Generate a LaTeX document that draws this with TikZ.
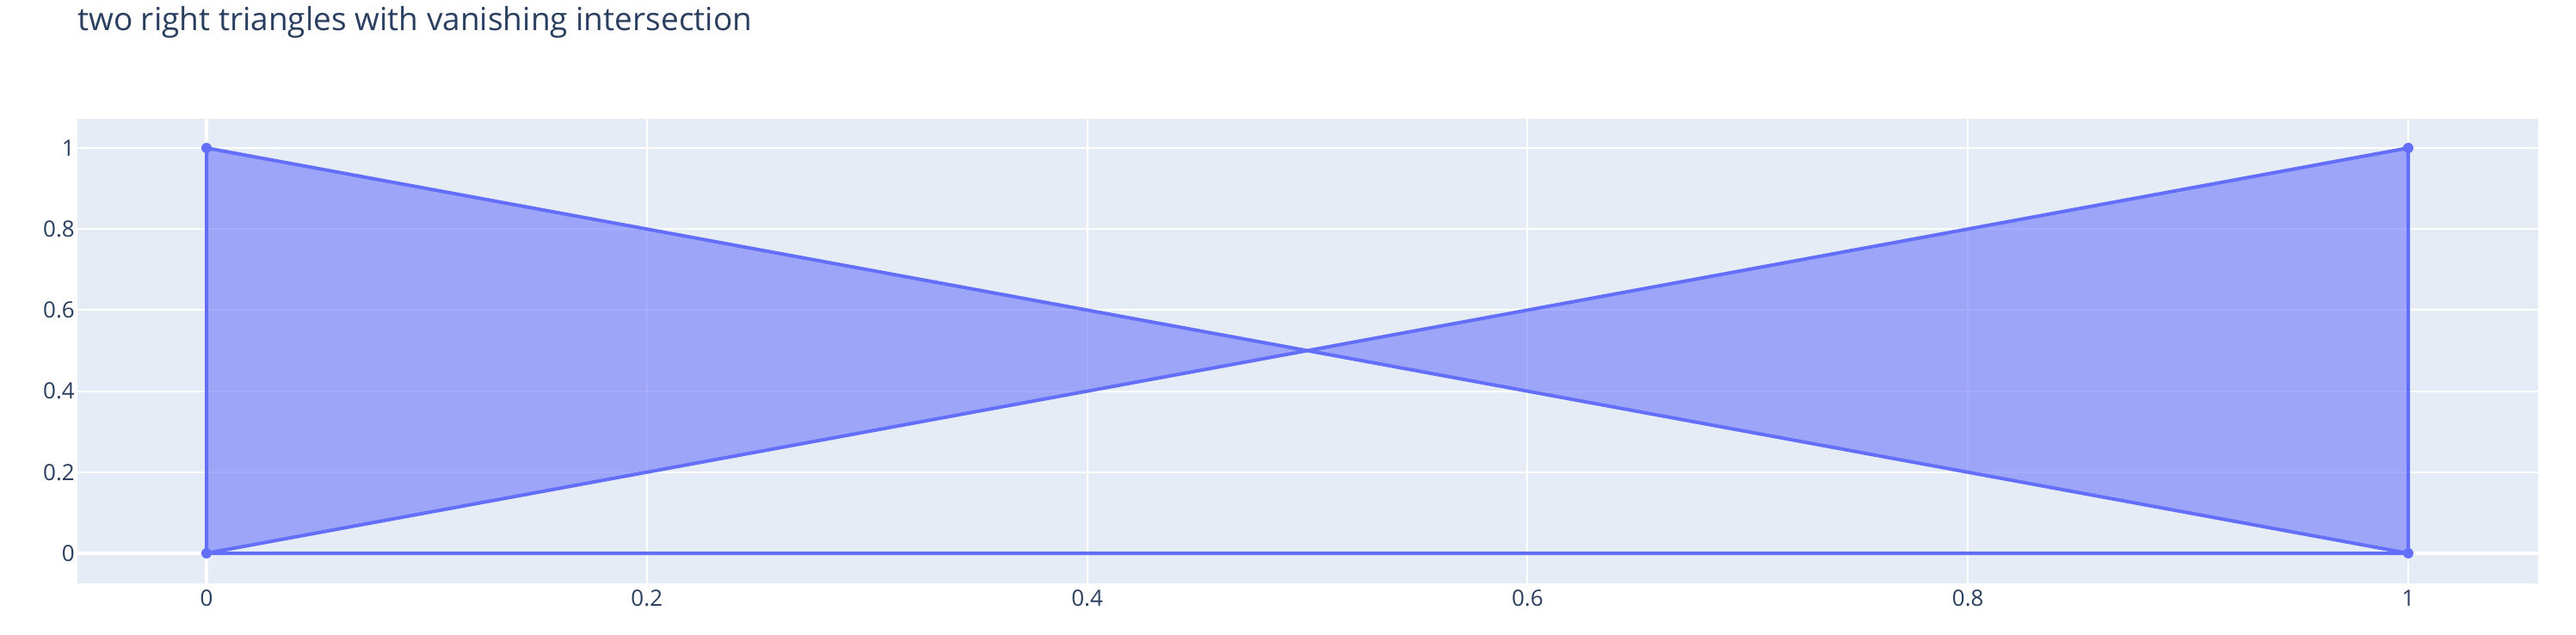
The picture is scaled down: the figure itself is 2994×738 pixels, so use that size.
\documentclass[tikz,border=0pt]{standalone}
\usepackage{fontspec}
\setmainfont{Open Sans}
\definecolor{plotbg}{HTML}{E5ECF6}
\definecolor{txt}{HTML}{2A3F5F}
\definecolor{trace}{HTML}{636EFA}
\tikzset{
  gridln/.style={draw=white,line width=2pt},
  zeroln/.style={draw=white,line width=4pt},
  edgeln/.style={draw=trace,line width=4pt,line join=round,line cap=round},
  marker/.style={fill=trace},
  ytick/.style={anchor=east,text=txt,inner sep=0pt,font=\fontsize{26}{30}\selectfont},
  xtick/.style={anchor=base,text=txt,inner sep=0pt,font=\fontsize{26}{30}\selectfont},
}
\begin{document}
\begin{tikzpicture}[x=1pt,y=-1pt]
\useasboundingbox (0,0) rectangle (2994,738);
\fill[white] (0,0) rectangle (2994,738);
\fill[plotbg] (90,138) rectangle (2950,678);
\node[anchor=base west,text=txt,inner sep=0pt,font=\fontsize{37}{44}\selectfont] (title) at (90,36) {two right triangles with vanishing intersection};
\begin{scope}[shift={(240,643)},x=2559pt,y=471pt]
  \foreach \v in {0.2,0.4,0.6,0.8,1}{
    \draw[gridln] (\v,-0.07431) -- (\v,1.07219);
    \draw[gridln] (-0.05862,\v) -- (1.05901,\v);
  }
  \draw[zeroln] (0,-0.07431) -- (0,1.07219);
  \draw[zeroln] (-0.05862,0) -- (1.05901,0);
  \coordinate (p00) at (0,0);
  \coordinate (p01) at (0,1);
  \coordinate (p10) at (1,0);
  \coordinate (p11) at (1,1);
  \fill[trace,fill opacity=0.56,even odd rule] (p00) -- (p01) -- (p10) -- cycle (p00) -- (p11) -- (p10) -- cycle;
  \draw[edgeln] (p00) -- (p01) -- (p10) -- (p00) -- (p11) -- (p10);
  \foreach \p in {p00,p01,p10,p11}{\fill[marker] (\p) circle[radius=6pt];}
  \foreach \v/\n in {0/0,0.2/1,0.4/2,0.6/3,0.8/4,1/5}{
    \node[xtick] (xt\n) at ([yshift=-61pt]\v,0) {\v};
  }
  \foreach \v/\n in {0/0,0.2/1,0.4/2,0.6/3,0.8/4,1/5}{
    \node[ytick] (yt\n) at ([xshift=-153pt]0,\v) {\v};
  }
\end{scope}
\end{tikzpicture}
\end{document}
